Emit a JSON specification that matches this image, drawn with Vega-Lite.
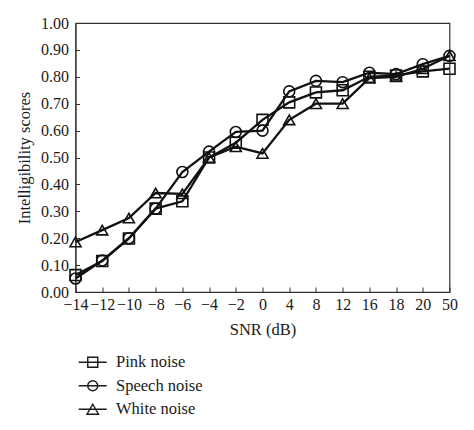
{
  "$schema": "https://vega.github.io/schema/vega-lite/v6.json",
  "autosize": {"type": "none"},
  "padding": {"left": 75.5, "top": 23, "right": 24.5, "bottom": 138},
  "width": 374,
  "height": 269,
  "background": "white",
  "config": {
    "font": "Liberation Serif",
    "view": {"stroke": "#333333", "strokeWidth": 1.2},
    "axis": {"grid": false, "domainColor": "#333333", "tickColor": "#333333", "labelColor": "#1a1a1a", "titleColor": "#1a1a1a", "labelFontSize": 16, "titleFontSize": 16.5, "titleFontWeight": "normal", "labelFont": "Liberation Serif", "titleFont": "Liberation Serif"},
    "legend": {"labelFont": "Liberation Serif", "labelFontSize": 16.5, "labelColor": "#1a1a1a"}
  },
  "data": {
    "values": [
      {"snr": "−14", "noise": "Pink noise", "score": 0.063},
      {"snr": "−12", "noise": "Pink noise", "score": 0.115},
      {"snr": "−10", "noise": "Pink noise", "score": 0.199},
      {"snr": "−8", "noise": "Pink noise", "score": 0.31},
      {"snr": "−6", "noise": "Pink noise", "score": 0.337},
      {"snr": "−4", "noise": "Pink noise", "score": 0.5},
      {"snr": "−2", "noise": "Pink noise", "score": 0.555},
      {"snr": "0", "noise": "Pink noise", "score": 0.64},
      {"snr": "4", "noise": "Pink noise", "score": 0.705},
      {"snr": "8", "noise": "Pink noise", "score": 0.742},
      {"snr": "12", "noise": "Pink noise", "score": 0.75},
      {"snr": "16", "noise": "Pink noise", "score": 0.8},
      {"snr": "18", "noise": "Pink noise", "score": 0.805},
      {"snr": "20", "noise": "Pink noise", "score": 0.82},
      {"snr": "50", "noise": "Pink noise", "score": 0.83},
      {"snr": "−14", "noise": "Speech noise", "score": 0.05},
      {"snr": "−12", "noise": "Speech noise", "score": 0.117},
      {"snr": "−10", "noise": "Speech noise", "score": 0.2},
      {"snr": "−8", "noise": "Speech noise", "score": 0.31},
      {"snr": "−6", "noise": "Speech noise", "score": 0.446},
      {"snr": "−4", "noise": "Speech noise", "score": 0.522},
      {"snr": "−2", "noise": "Speech noise", "score": 0.595},
      {"snr": "0", "noise": "Speech noise", "score": 0.6},
      {"snr": "4", "noise": "Speech noise", "score": 0.746},
      {"snr": "8", "noise": "Speech noise", "score": 0.785},
      {"snr": "12", "noise": "Speech noise", "score": 0.78},
      {"snr": "16", "noise": "Speech noise", "score": 0.815},
      {"snr": "18", "noise": "Speech noise", "score": 0.81},
      {"snr": "20", "noise": "Speech noise", "score": 0.847},
      {"snr": "50", "noise": "Speech noise", "score": 0.878},
      {"snr": "−14", "noise": "White noise", "score": 0.186},
      {"snr": "−12", "noise": "White noise", "score": 0.23},
      {"snr": "−10", "noise": "White noise", "score": 0.275},
      {"snr": "−8", "noise": "White noise", "score": 0.368},
      {"snr": "−6", "noise": "White noise", "score": 0.365},
      {"snr": "−4", "noise": "White noise", "score": 0.5},
      {"snr": "−2", "noise": "White noise", "score": 0.54},
      {"snr": "0", "noise": "White noise", "score": 0.515},
      {"snr": "4", "noise": "White noise", "score": 0.64},
      {"snr": "8", "noise": "White noise", "score": 0.7},
      {"snr": "12", "noise": "White noise", "score": 0.7},
      {"snr": "16", "noise": "White noise", "score": 0.795},
      {"snr": "18", "noise": "White noise", "score": 0.8},
      {"snr": "20", "noise": "White noise", "score": 0.83},
      {"snr": "50", "noise": "White noise", "score": 0.878}
    ]
  },
  "encoding": {
    "x": {
      "field": "snr", "type": "ordinal",
      "scale": {"type": "point", "padding": 0, "domain": ["−14", "−12", "−10", "−8", "−6", "−4", "−2", "0", "4", "8", "12", "16", "18", "20", "50"]},
      "axis": {"title": "SNR (dB)", "labelAngle": 0, "tickSize": -5, "labelPadding": 9, "titlePadding": 9}
    },
    "y": {
      "field": "score", "type": "quantitative",
      "scale": {"domain": [0, 1], "nice": false},
      "axis": {"title": "Intelligibility scores", "values": [0, 0.1, 0.2, 0.3, 0.4, 0.5, 0.6, 0.7, 0.8, 0.9, 1.0], "format": ".2f", "tickSize": -4, "labelPadding": 11, "titlePadding": 8}
    }
  },
  "layer": [
    {
      "mark": {"type": "line", "color": "#111111", "strokeWidth": 2.3},
      "encoding": {"detail": {"field": "noise"}}
    },
    {
      "mark": {"type": "point", "filled": false, "color": "#111111", "strokeWidth": 1.6, "size": 120, "opacity": 1},
      "encoding": {
        "shape": {
          "field": "noise", "type": "nominal",
          "scale": {"domain": ["Pink noise", "Speech noise", "White noise"], "range": ["square", "circle", "triangle-up"]},
          "legend": null
        }
      }
    },
    {
      "mark": {"type": "point", "filled": false, "color": "#111111", "strokeWidth": 1.4, "size": 100, "opacity": 0},
      "encoding": {
        "shape": {
          "field": "noise", "type": "nominal",
          "scale": {"domain": ["Pink noise", "Speech noise", "White noise"], "range": [
            "M-2.8,0H2.8M-1,-1H1V1H-1Z",
            "M-2.8,0H2.8M1,0A1,1,0,1,1,-1,0A1,1,0,1,1,1,0Z",
            "M-2.8,0H2.8M0,-1L1.15,1H-1.15Z"
          ]},
          "legend": {
            "title": null, "orient": "none", "legendX": 9, "legendY": 331,
            "symbolSize": 100, "labelOffset": 15, "rowPadding": 6.5, "padding": 0,
            "symbolStrokeColor": "#1a1a1a", "symbolStrokeWidth": 1.4, "symbolFillColor": "transparent",
            "encode": {"symbols": {"update": {"opacity": {"value": 1}, "strokeOpacity": {"value": 1}, "stroke": {"value": "#1a1a1a"}}}}
          }
        }
      }
    }
  ],
  "resolve": {"scale": {"shape": "independent"}}
}
